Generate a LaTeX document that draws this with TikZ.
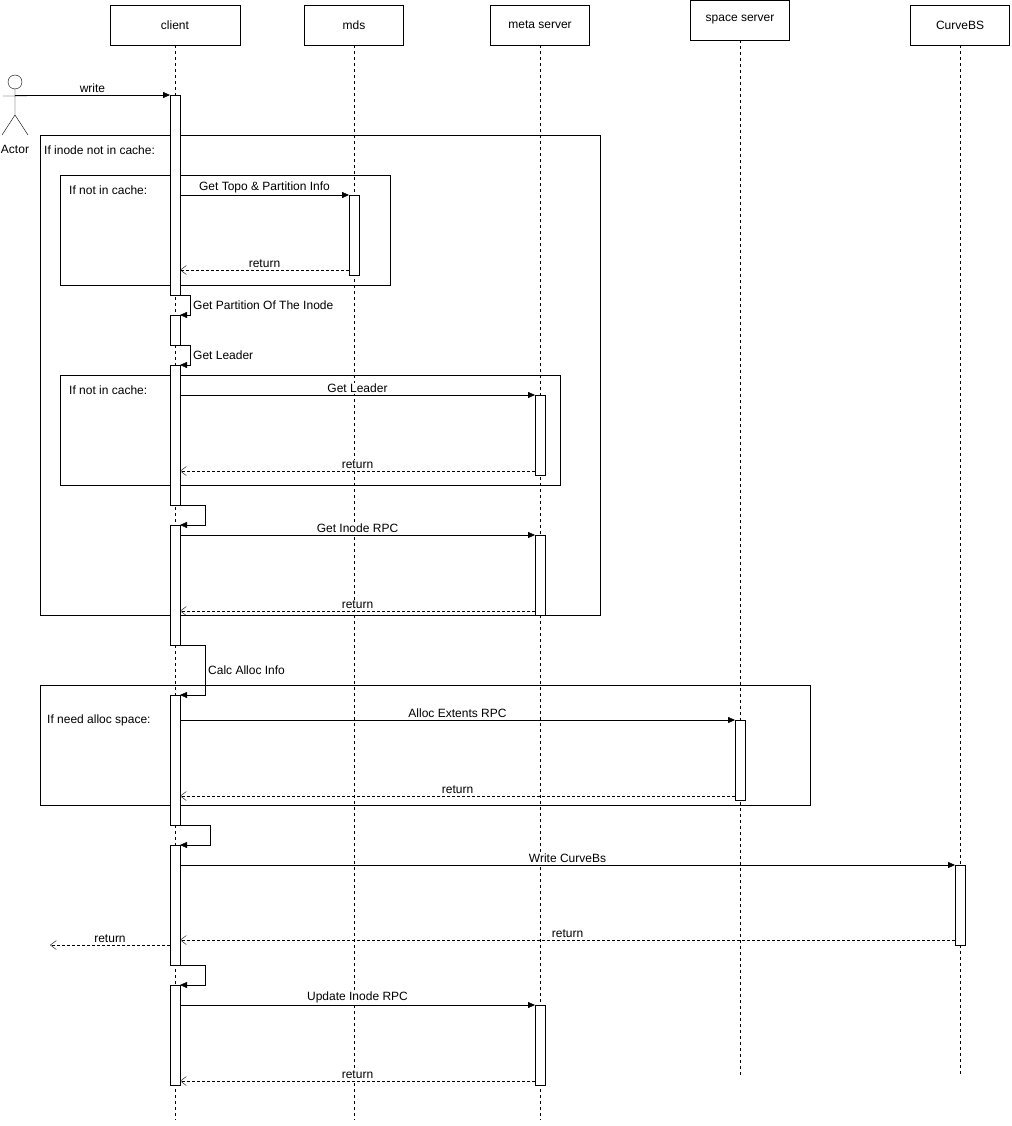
\documentclass[tikz,border=0pt]{standalone}
\usepackage{fontspec}
\setmainfont{Liberation Sans}
\usetikzlibrary{arrows.meta}
\tikzset{
  head/.style={draw, fill=white, minimum width=99pt, minimum height=40pt, inner sep=0pt},
  life/.style={dashed, dash pattern=on 3pt off 3pt},
  bar/.style={draw, fill=white},
  frame/.style={draw},
  call/.style={-{Triangle[length=7pt,width=6pt]}},
  ret/.style={dashed, dash pattern=on 3pt off 2pt, -{Straight Barb[length=6pt,width=9pt]}},
  lbl/.style={font=\fontsize{12}{14}\selectfont, inner sep=1pt, fill=white}
}
\begin{document}
\begin{tikzpicture}[x=1pt, y=-1pt, font=\fontsize{12}{14}\selectfont]
\useasboundingbox (0,0) rectangle (1011,1126);

% participants
\node[head, minimum width=130pt] (client) at (175,25) {client};
\node[head] (mds) at (354,25) {mds};
\node[head] (meta) at (540,25) {meta server};
\node[head] (space) at (740,20) {space server};
\node[head] (curve) at (960,25) {CurveBS};
\draw[life] (client.south) -- (175,1120);
\draw[life] (mds.south) -- (354,1120);
\draw[life] (meta.south) -- (540,1120);
\draw[life] (space.south) -- (740,1075);
\draw[life] (curve.south) -- (960,1075);

% actor
\draw (15,82) circle (7);
\draw (15,89) -- (15,115) (3,96) -- (27,96) (15,115) -- (2,135) (15,115) -- (28,135);
\node[lbl] (actor) at (15,149) {Actor};

% frames
\draw[frame] (40,135) rectangle (600,615);
\node[lbl, anchor=west] at (43,150) {If inode not in cache:};
\draw[frame] (60,175) rectangle (390,285);
\node[lbl, anchor=west] at (68,190) {If not in cache:};
\draw[frame] (60,375) rectangle (560,485);
\node[lbl, anchor=west] at (68,390) {If not in cache:};
\draw[frame] (40,685) rectangle (810,805);
\node[lbl, anchor=west] at (46,720) {If need alloc space:};

% activation bars
\foreach \a/\b in {95/295, 315/345, 365/505, 525/645, 695/825, 845/965, 985/1085}
  \draw[bar] (170,\a) rectangle (180,\b);
\draw[bar] (349,195) rectangle (359,275);
\foreach \a/\b in {395/475, 535/615, 1005/1085}
  \draw[bar] (535,\a) rectangle (545,\b);
\draw[bar] (735,720) rectangle (745,800);
\draw[bar] (955,865) rectangle (965,945);

% messages
\coordinate (a0) at (15,95);
\coordinate (a1) at (170,95);
\draw[call] (a0) -- node[lbl, above=1pt] {write} (a1);
\foreach \y/\tx/\txt in {195/349/Get Topo \& Partition Info, 395/535/Get Leader,
    535/535/Get Inode RPC, 720/735/Alloc Extents RPC, 865/955/Write CurveBs,
    1005/535/Update Inode RPC}{
  \coordinate (s\y) at (180,\y);
  \coordinate (t\y) at (\tx,\y);
  \draw[call] (s\y) -- node[lbl, above=1pt] {\txt} (t\y);
}
\foreach \y/\tx in {270/349, 471/535, 611/535, 796/735, 940/955, 1081/535}{
  \coordinate (r\y) at (\tx,\y);
  \coordinate (q\y) at (180,\y);
  \draw[ret] (r\y) -- node[lbl, above=1pt] {return} (q\y);
}
\coordinate (ro) at (170,945);
\coordinate (re) at (50,945);
\draw[ret] (ro) -- node[lbl, above=1pt] {return} (re);

% self calls
\foreach \a/\b/\w/\txt in {295/315/190/Get Partition Of The Inode, 345/365/190/Get Leader,
    505/525/205/{}, 645/695/205/Calc Alloc Info, 825/845/210/{}, 965/985/205/{}}{
  \coordinate (u\a) at (180,\a);
  \coordinate (v\a) at (180,\b);
  \draw[call] (u\a) -- (\w,\a) -- node[lbl, right=2pt, fill=none] {\txt} (\w,\b) -- (v\a);
}
\end{tikzpicture}
\end{document}
